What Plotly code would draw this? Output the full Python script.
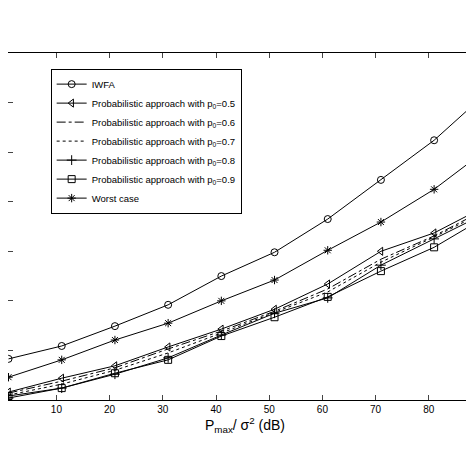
import plotly.graph_objects as go

x = [1, 11, 21, 31, 41, 51, 61, 71, 81, 90]
iwfa = [0.83, 1.09, 1.49, 1.92, 2.50, 2.98, 3.65, 4.44, 5.24, 6.11]
worst = [0.46, 0.81, 1.21, 1.55, 2.00, 2.42, 3.02, 3.59, 4.25, 4.98]
p05 = [0.16, 0.44, 0.69, 1.07, 1.43, 1.83, 2.34, 3.00, 3.37, 3.87]
p06 = [0.14, 0.38, 0.65, 1.03, 1.39, 1.79, 2.24, 2.84, 3.31, 3.81]
p07 = [0.10, 0.32, 0.60, 0.95, 1.35, 1.77, 2.18, 2.78, 3.29, 3.77]
p08 = [0.04, 0.24, 0.52, 0.85, 1.31, 1.75, 2.06, 2.72, 3.25, 3.73]
p09 = [0.08, 0.24, 0.54, 0.81, 1.29, 1.67, 2.08, 2.60, 3.08, 3.65]

series = [
    ("IWFA", iwfa, "solid", "circle-open"),
    ("Probabilistic approach with p<sub>0</sub>=0.5", p05, "solid", "triangle-left-open"),
    ("Probabilistic approach with p<sub>0</sub>=0.6", p06, "dashdot", None),
    ("Probabilistic approach with p<sub>0</sub>=0.7", p07, "dot", None),
    ("Probabilistic approach with p<sub>0</sub>=0.8", p08, "solid", "cross-thin-open"),
    ("Probabilistic approach with p<sub>0</sub>=0.9", p09, "solid", "square-open"),
    ("Worst case", worst, "solid", "asterisk-open"),
]

fig = go.Figure()
for name, y, dash, sym in series:
    fig.add_trace(go.Scatter(
        x=x, y=y, name=name,
        mode="lines+markers" if sym else "lines",
        line=dict(color="black", width=1, dash=dash),
        marker=dict(symbol=sym or "circle", size=7, color="black",
                    line=dict(color="black", width=1)),
    ))

fig.update_layout(
    width=474, height=474,
    margin=dict(l=0, r=0, t=45, b=82),
    plot_bgcolor="white", paper_bgcolor="white",
    font=dict(family="Arial, Liberation Sans", color="black", size=10),
    showlegend=True,
    legend=dict(x=0.09, y=0.955, xanchor="left", yanchor="top",
                bordercolor="black", borderwidth=1, bgcolor="white",
                font=dict(size=9.5), tracegroupgap=0, itemwidth=30),
    xaxis=dict(range=[0.9, 90], tickvals=[10, 20, 30, 40, 50, 60, 70, 80, 90],
               ticks="inside", ticklen=5, mirror="ticks", showline=True,
               linecolor="black", linewidth=1, showgrid=False, zeroline=False,
               tickfont=dict(size=10),
               title=dict(text="P<sub>max</sub>/ σ<sup>2</sup> (dB)",
                          font=dict(size=14), standoff=6)),
    yaxis=dict(range=[0, 7], tickvals=[0, 1, 2, 3, 4, 5, 6, 7], showticklabels=False,
               ticks="inside", ticklen=5, mirror="ticks", showline=True,
               linecolor="black", linewidth=1, showgrid=False, zeroline=False),
)
fig.write_html("out.html")
